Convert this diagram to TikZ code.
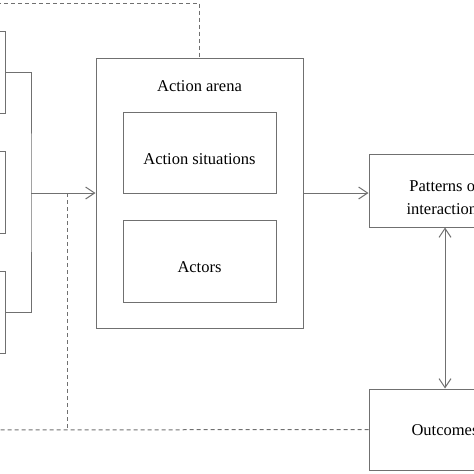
\documentclass[tikz,border=0pt]{standalone}
\usepackage{fontspec}
\setmainfont{Liberation Serif}
\usepackage{tikz}
\usetikzlibrary{positioning,arrows.meta,calc}
\definecolor{linegray}{HTML}{707070}

\begin{document}
\begin{tikzpicture}[x=1pt,y=-1pt,
  box/.style={draw=linegray,line width=1pt,inner sep=0pt},
  lbl/.style={align=center,inner sep=0pt,font=\fontsize{16.5}{23}\selectfont},
  fb/.style={draw=linegray,line width=1pt,dash pattern=on 4pt off 3pt},
  conn/.style={draw=linegray,line width=1pt},
  >={Straight Barb[length=9pt,width=12pt,line width=1pt]}]

\useasboundingbox (0,0) rectangle (474,474);
\clip (0,0) rectangle (474,474);

\node[box,minimum width=85pt,minimum height=82pt] (src1) at (-37.5,72) {};
\node[box,minimum width=85pt,minimum height=82pt] (src2) at (-37.5,192) {};
\node[box,minimum width=85pt,minimum height=82pt] (src3) at (-37.5,312) {};

\node[box,minimum width=207pt,minimum height=270pt] (arena) at (199.5,193) {};
\node[box,minimum width=153pt,minimum height=81pt] (sit) at (199.5,152.5) {};
\node[box,minimum width=153pt,minimum height=82pt] (act) at (199.5,261) {};
\node[lbl] (arenaT) at (199.5,86) {Action arena};
\node[lbl] (sitT) at (199.5,159) {Action situations};
\node[lbl] (actT) at (199.5,267) {Actors};

\node[box,minimum width=152pt,minimum height=73pt] (pat) at (445,190.5) {};
\node[box,minimum width=152pt,minimum height=81pt] (out) at (445,429.5) {};
\node[lbl] (patT) at (445,197) {Patterns of\\interactions};
\node[lbl] (outT) at (445,430) {Outcomes};

\coordinate (j) at (31,193);
\coordinate (k) at (67,193);
\coordinate (fbT) at (-10,3);
\coordinate (fbL) at (-10,430);

\draw[conn] (src1.east) -| (j) |- (src3.east);
\draw[conn,->] (j) -- (arena.west);
\draw[conn,->] (arena.east) -- (arena.east -| pat.west);
\draw[conn,<->] (pat.south) -- (out.north);

\draw[fb] (fbT) -| (arena.north);
\draw[fb] (out.west) -- (fbL);
\draw[fb] (k) -- (k |- out.west);
\end{tikzpicture}
\end{document}
